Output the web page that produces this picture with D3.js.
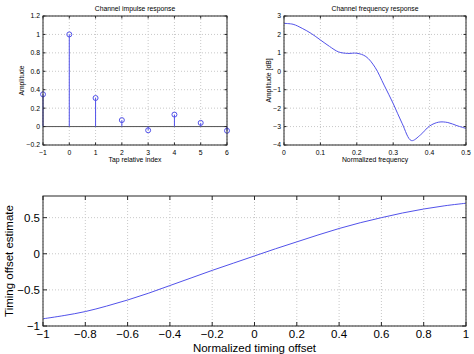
<!DOCTYPE html>
<html>
<head>
<meta charset="utf-8">
<script src="https://cdn.jsdelivr.net/npm/d3@7"></script>
<style>
  body { margin: 0; background: #fff; }
  text { font-family: "Liberation Sans", Arial, sans-serif; fill: #000; }
</style>
</head>
<body>
<div id="wrapper"></div>
<script>
// data

const tapIndex = [-1, 0, 1, 2, 3, 4, 5, 6]
const tapAmplitude = [0.35, 1.0, 0.31, 0.07, -0.04, 0.13, 0.04, -0.045]

const freq = [0, 0.025, 0.05, 0.075, 0.1, 0.125, 0.15, 0.175, 0.2, 0.225, 0.25,
    0.275, 0.3, 0.325, 0.35, 0.375, 0.4, 0.425, 0.45, 0.475, 0.5]
const freqResponseDb = [2.60, 2.55, 2.33, 2.05, 1.70, 1.35, 1.05, 0.97, 0.98, 0.80, 0.22,
    -0.75, -1.75, -2.85, -3.76, -3.45, -2.97, -2.76, -2.78, -2.95, -3.10]

const timingOffset = [-1, -0.9, -0.8, -0.7, -0.6, -0.5, -0.4, -0.3, -0.2, -0.1, 0,
    0.1, 0.2, 0.3, 0.4, 0.5, 0.6, 0.7, 0.8, 0.9, 1]
const timingEstimate = [-0.90, -0.855, -0.80, -0.725, -0.64, -0.545, -0.44, -0.335, -0.23, -0.13, -0.03,
    0.07, 0.165, 0.26, 0.35, 0.43, 0.50, 0.565, 0.62, 0.665, 0.70]

const impulseXTicks = [-1, 0, 1, 2, 3, 4, 5, 6]
const impulseYTicks = [-0.2, 0, 0.2, 0.4, 0.6, 0.8, 1, 1.2]
const freqXTicks = [0, 0.1, 0.2, 0.3, 0.4, 0.5]
const freqYTicks = [-4, -3, -2, -1, 0, 1, 2, 3]
const timingXTicks = [-1, -0.8, -0.6, -0.4, -0.2, 0, 0.2, 0.4, 0.6, 0.8, 1]
const timingYTicks = [-1, -0.5, 0, 0.5]

const lineColor = "#5252ea"
const fmt = d => (d < 0 ? "\u2212" : "") + Math.abs(d)

const svg = d3.select("#wrapper")
    .append("svg")
    .attr("width", 474)
    .attr("height", 354)

// generic matlab-ish axes: grid, box, inward ticks
function makeAxes(box, xDomain, yDomain, xTicks, yTicks, opts) {
    const xScale = d3.scaleLinear().domain(xDomain).range([box.left, box.right])
    const yScale = d3.scaleLinear().domain(yDomain).range([box.bottom, box.top])
    const g = svg.append("g")

    const grid = g.append("g")
        .attr("stroke", "#c8c8c8")
        .attr("stroke-dasharray", "1,2")
        .attr("stroke-width", 1)
    grid.selectAll(".gx")
        .data(xTicks)
        .join("line")
        .attr("x1", d => xScale(d)).attr("x2", d => xScale(d))
        .attr("y1", box.top).attr("y2", box.bottom)
    grid.selectAll(".gy")
        .data(yTicks)
        .join("line")
        .attr("y1", d => yScale(d)).attr("y2", d => yScale(d))
        .attr("x1", box.left).attr("x2", box.right)

    const dataLayer = g.append("g")

    const frame = g.append("g")
        .attr("stroke", "#262626")
        .attr("stroke-width", 1)
        .attr("fill", "none")
    frame.append("rect")
        .attr("x", box.left).attr("y", box.top)
        .attr("width", box.right - box.left)
        .attr("height", box.bottom - box.top)

    const tl = opts.tickLen
    xTicks.forEach(d => {
        frame.append("line").attr("x1", xScale(d)).attr("x2", xScale(d))
            .attr("y1", box.bottom).attr("y2", box.bottom - tl)
        frame.append("line").attr("x1", xScale(d)).attr("x2", xScale(d))
            .attr("y1", box.top).attr("y2", box.top + tl)
    })
    yTicks.forEach(d => {
        frame.append("line").attr("y1", yScale(d)).attr("y2", yScale(d))
            .attr("x1", box.left).attr("x2", box.left + tl)
        frame.append("line").attr("y1", yScale(d)).attr("y2", yScale(d))
            .attr("x1", box.right).attr("x2", box.right - tl)
    })

    g.selectAll(".xlab")
        .data(xTicks)
        .join("text")
        .attr("x", d => xScale(d))
        .attr("y", box.bottom + opts.xLabGap)
        .attr("text-anchor", "middle")
        .style("font-size", opts.fontSize + "px")
        .text(fmt)

    g.selectAll(".ylab")
        .data(yTicks)
        .join("text")
        .attr("x", box.left - 3)
        .attr("y", d => yScale(d))
        .attr("dy", "0.35em")
        .attr("text-anchor", "end")
        .style("font-size", opts.fontSize + "px")
        .text(fmt)

    if (opts.title) {
        g.append("text")
            .attr("x", (box.left + box.right) / 2)
            .attr("y", opts.titleY)
            .attr("text-anchor", "middle")
            .style("font-size", opts.fontSize + "px")
            .text(opts.title)
    }
    g.append("text")
        .attr("x", (box.left + box.right) / 2)
        .attr("y", opts.xTitleY)
        .attr("text-anchor", "middle")
        .style("font-size", opts.labelSize + "px")
        .text(opts.xTitle)
    g.append("text")
        .attr("transform", `translate(${opts.yTitleX},${(box.top + box.bottom) / 2}) rotate(-90)`)
        .attr("text-anchor", "middle")
        .style("font-size", opts.labelSize + "px")
        .text(opts.yTitle)

    return { xScale, yScale, dataLayer }
}

// 1. channel impulse response (stem)
const imp = makeAxes({ left: 43, right: 227, top: 16, bottom: 145 },
    [-1, 6], [-0.2, 1.2], impulseXTicks, impulseYTicks,
    { tickLen: 2.5, fontSize: 6.8, labelSize: 6.8, xLabGap: 10,
      title: "Channel impulse response", titleY: 11,
      xTitle: "Tap relative index", xTitleY: 162,
      yTitle: "Amplitude", yTitleX: 24 })

const stems = tapIndex.map((x, i) => ({ x, y: tapAmplitude[i] }))
imp.dataLayer.append("line")
    .attr("x1", 43).attr("x2", 227)
    .attr("y1", imp.yScale(0)).attr("y2", imp.yScale(0))
    .attr("stroke", "#555")
    .attr("stroke-width", 1)
imp.dataLayer.selectAll(".stem")
    .data(stems)
    .join("line")
    .attr("x1", d => imp.xScale(d.x)).attr("x2", d => imp.xScale(d.x))
    .attr("y1", imp.yScale(0)).attr("y2", d => imp.yScale(d.y))
    .attr("stroke", lineColor)
    .attr("stroke-width", 1)
imp.dataLayer.selectAll(".dot")
    .data(stems)
    .join("circle")
    .attr("cx", d => imp.xScale(d.x))
    .attr("cy", d => imp.yScale(d.y))
    .attr("r", 2.5)
    .attr("fill", "none")
    .attr("stroke", lineColor)
    .attr("stroke-width", 1)

// 2. channel frequency response
const fr = makeAxes({ left: 284, right: 466, top: 16, bottom: 145 },
    [0, 0.5], [-4, 3], freqXTicks, freqYTicks,
    { tickLen: 2.5, fontSize: 6.8, labelSize: 6.8, xLabGap: 10,
      title: "Channel frequency response", titleY: 11,
      xTitle: "Normalized frequency", xTitleY: 162,
      yTitle: "Amplitude [dB]", yTitleX: 271 })

const frLine = d3.line()
    .x((d, i) => fr.xScale(freq[i]))
    .y(d => fr.yScale(d))
    .curve(d3.curveCatmullRom.alpha(0.5))
fr.dataLayer.append("path")
    .attr("d", frLine(freqResponseDb))
    .attr("fill", "none")
    .attr("stroke", lineColor)
    .attr("stroke-width", 1)

// 3. timing offset estimate
const tm = makeAxes({ left: 43, right: 466, top: 196, bottom: 326 },
    [-1, 1], [-1, 0.8], timingXTicks, timingYTicks,
    { tickLen: 4, fontSize: 11.5, labelSize: 11.5, xLabGap: 12,
      xTitle: "Normalized timing offset", xTitleY: 351.5,
      yTitle: "Timing offset estimate", yTitleX: 13 })

const tmLine = d3.line()
    .x((d, i) => tm.xScale(timingOffset[i]))
    .y(d => tm.yScale(d))
    .curve(d3.curveCatmullRom.alpha(0.5))
tm.dataLayer.append("path")
    .attr("d", tmLine(timingEstimate))
    .attr("fill", "none")
    .attr("stroke", lineColor)
    .attr("stroke-width", 1)
</script>
</body>
</html>
